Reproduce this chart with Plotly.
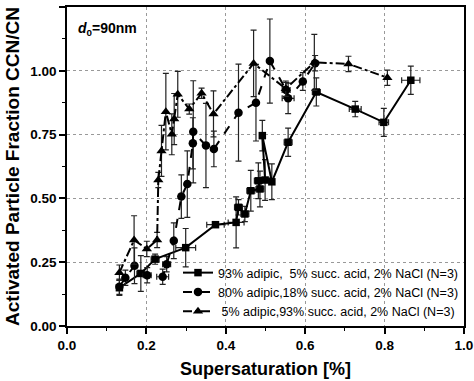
import plotly.graph_objects as go

# Series 1: 93% adipic, 5% succ. acid, 2% NaCl (squares, solid)
x1 = [0.132, 0.186, 0.222, 0.299, 0.374, 0.426, 0.432, 0.448, 0.463, 0.486, 0.482, 0.499, 0.492, 0.516, 0.557, 0.628, 0.726, 0.798, 0.866]
y1 = [0.150, 0.206, 0.262, 0.307, 0.397, 0.406, 0.465, 0.439, 0.530, 0.537, 0.569, 0.572, 0.746, 0.565, 0.720, 0.917, 0.850, 0.798, 0.963]
ey1 = [0.03, 0.07, 0.02, 0.075, 0.01, 0.10, 0.03, 0.03, 0.08, 0.07, 0.07, 0.08, 0.06, 0.07, 0.055, 0.055, 0.03, 0.055, 0.055]
ex1 = [0.005, 0.01, 0.01, 0.025, 0.022, 0.02, 0.01, 0.01, 0.01, 0.01, 0.01, 0.01, 0.005, 0.005, 0.01, 0.01, 0.015, 0.012, 0.023]

# Series 2: 80% adipic, 18% succ. acid, 2% NaCl (circles, dashed)
x2 = [0.132, 0.147, 0.170, 0.202, 0.241, 0.251, 0.269, 0.288, 0.303, 0.317, 0.318, 0.350, 0.370, 0.432, 0.476, 0.511, 0.552, 0.557, 0.594, 0.625]
y2 = [0.154, 0.189, 0.236, 0.199, 0.193, 0.242, 0.334, 0.507, 0.556, 0.716, 0.761, 0.707, 0.694, 0.836, 0.875, 1.038, 0.925, 0.892, 0.958, 1.030]
ey2 = [0.03, 0.03, 0.07, 0.03, 0.03, 0.03, 0.07, 0.085, 0.13, 0.10, 0.20, 0.165, 0.07, 0.19, 0.15, 0.165, 0.03, 0.06, 0.035, 0.03]
ex2 = [0.005, 0.005, 0.005, 0.01, 0.015, 0.01, 0.005, 0.005, 0.005, 0.005, 0.005, 0.005, 0.005, 0.005, 0.005, 0.005, 0.01, 0.015, 0.005, 0.005]

# Series 3: 5% adipic, 93% succ. acid, 2% NaCl (triangles, dash-dot)
x3 = [0.132, 0.169, 0.201, 0.227, 0.230, 0.238, 0.249, 0.264, 0.270, 0.279, 0.308, 0.339, 0.369, 0.470, 0.551, 0.623, 0.709, 0.807]
y3 = [0.209, 0.337, 0.302, 0.337, 0.572, 0.686, 0.840, 0.751, 0.811, 0.908, 0.850, 0.912, 0.831, 1.029, 0.930, 1.033, 1.027, 0.973]
ey3 = [0.03, 0.095, 0.03, 0.03, 0.03, 0.10, 0.15, 0.08, 0.10, 0.09, 0.02, 0.02, 0.09, 0.13, 0.03, 0.11, 0.03, 0.03]

names = ["93% adipic,\u00a0 5% succ. acid, 2% NaCl (N=3)",
         "80% adipic,18% succ. acid, 2% NaCl (N=3)",
         "\u00a05% adipic,93% succ. acid, 2% NaCl (N=3)"]

FONT = "Arial, Liberation Sans, sans-serif"
ebar = dict(color="#222", thickness=1.2, width=3)

fig = go.Figure()
fig.add_trace(go.Scatter(
    x=x1, y=y1, name=names[0], mode="lines+markers",
    line=dict(color="black", width=2, dash="solid"),
    marker=dict(symbol="square", size=7.5, color="black"),
    error_y=dict(type="data", array=ey1, **ebar),
    error_x=dict(type="data", array=ex1, **ebar),
))
fig.add_trace(go.Scatter(
    x=x2, y=y2, name=names[1], mode="lines+markers",
    line=dict(color="black", width=2, dash="dash"),
    marker=dict(symbol="circle", size=8.5, color="black"),
    error_y=dict(type="data", array=ey2, **ebar),
    error_x=dict(type="data", array=ex2, **ebar),
))
fig.add_trace(go.Scatter(
    x=x3, y=y3, name=names[2], mode="lines+markers",
    line=dict(color="black", width=2, dash="dashdot"),
    marker=dict(symbol="triangle-up", size=9, color="black"),
    error_y=dict(type="data", array=ey3, **ebar),
))

axis_common = dict(
    automargin=False,
    showline=True, linecolor="black", linewidth=1.5, mirror=True,
    ticks="outside", ticklen=6, tickwidth=1.5, tickcolor="black",
    showgrid=True, gridcolor="#999", griddash="dot", gridwidth=1,
    zeroline=False,
    tickfont=dict(family=FONT, size=13.5, color="black", weight="bold"),
)

fig.update_xaxes(
    range=[0, 1], dtick=0.2, tickformat=".1f",
    minor=dict(dtick=0.1, ticks="outside", ticklen=3.5, tickwidth=1.2, tickcolor="black", showgrid=False),
    title=dict(text="<b>Supersaturation [%]</b>", standoff=10,
               font=dict(family=FONT, size=18, color="black")),
    **axis_common,
)
fig.update_yaxes(
    range=[0, 1.25], dtick=0.25, tickformat=".2f",
    minor=dict(dtick=0.125, ticks="outside", ticklen=3.5, tickwidth=1.2, tickcolor="black", showgrid=False),
    title=dict(text="<b>Activated Particle Fraction CCN/CN</b>", standoff=6,
               font=dict(family=FONT, size=19, color="black")),
    **axis_common,
)

fig.add_annotation(
    text="<b><i>d</i><sub>0</sub>=90nm</b>", xref="paper", yref="paper",
    x=0.022, y=0.965, xanchor="left", yanchor="top", showarrow=False,
    font=dict(family=FONT, size=14, color="black"),
)

fig.update_layout(
    width=474, height=381,
    margin=dict(l=67, r=10, t=7, b=55, autoexpand=False),
    plot_bgcolor="white", paper_bgcolor="white",
    showlegend=True,
    legend=dict(x=1, y=0, xanchor="right", yanchor="bottom",
                bgcolor="rgba(0,0,0,0)", borderwidth=0,
                font=dict(family=FONT, size=12.5, color="black"),
                tracegroupgap=0, itemwidth=30),
)

fig.write_html("out.html", config={"displayModeBar": False},
               post_script="document.body.style.margin='0';document.body.style.padding='0';")
